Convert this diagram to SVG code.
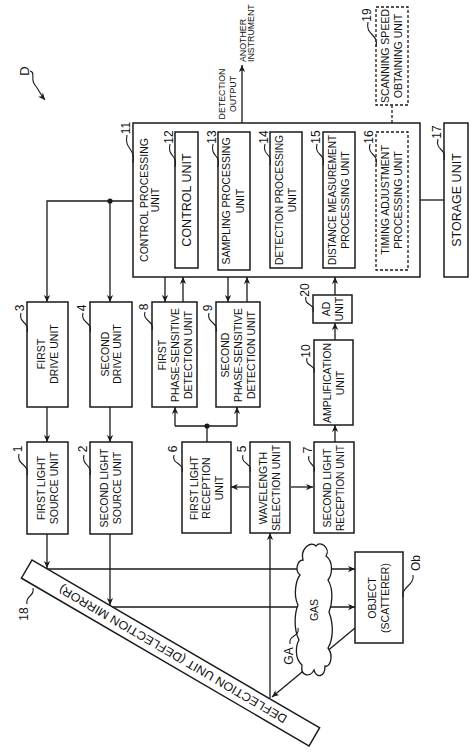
<svg xmlns="http://www.w3.org/2000/svg" width="474" height="753" viewBox="0 0 474 753">
<defs>
<style>
.b{fill:#fff;stroke:#1a1a1a;stroke-width:1.5}
.d{fill:#fff;stroke:#1a1a1a;stroke-width:1.3;stroke-dasharray:3,2}
.t{font-family:"Liberation Sans",Arial,sans-serif;font-size:10.5px;fill:#111;text-anchor:middle}
.tl{font-family:"Liberation Sans",Arial,sans-serif;font-size:12.5px;fill:#111;text-anchor:middle}
.n{font-family:"Liberation Sans",Arial,sans-serif;font-size:12px;fill:#111;text-anchor:middle}
.s{font-family:"Liberation Sans",Arial,sans-serif;font-size:8.8px;fill:#111}
.c{fill:none;stroke:#1a1a1a;stroke-width:1.3}
.ld{fill:none;stroke:#1a1a1a;stroke-width:1.1}
</style>
<marker id="ah" viewBox="0 0 10 10" refX="10" refY="5" markerWidth="8" markerHeight="7" markerUnits="userSpaceOnUse" orient="auto">
<path d="M0,0.5 L10,5 L0,9.5 L3,5 z" fill="#1a1a1a"/>
</marker>
</defs>
<rect width="474" height="753" fill="#fff"/>

<g id="connectors">
<path class="c" d="M242,123 V65" marker-end="url(#ah)"/>
<path class="c" d="M392,105 V123" stroke-dasharray="3,2"/>
<path class="c" d="M420,200 H444"/>
<path class="c" d="M133,201 H47 V302" marker-end="url(#ah)"/>
<path class="c" d="M110,201 V302" marker-end="url(#ah)"/>
<circle cx="110" cy="201" r="2.6" fill="#1a1a1a"/>
<path class="c" d="M165,277 V302" marker-end="url(#ah)"/>
<path class="c" d="M183,302 V277" marker-end="url(#ah)"/>
<path class="c" d="M228,277 V302" marker-end="url(#ah)"/>
<path class="c" d="M247,302 V277" marker-end="url(#ah)"/>
<path class="c" d="M335,295 V277" marker-end="url(#ah)"/>
<path class="c" d="M335,340 V323" marker-end="url(#ah)"/>
<path class="c" d="M335,442 V425" marker-end="url(#ah)"/>
<path class="c" d="M47,407 V442" marker-end="url(#ah)"/>
<path class="c" d="M110,407 V442" marker-end="url(#ah)"/>
<path class="c" d="M207,442 V426 M175,426 H237"/>
<path class="c" d="M175,426 V407" marker-end="url(#ah)"/>
<path class="c" d="M237,426 V407" marker-end="url(#ah)"/>
<circle cx="207" cy="426" r="2.6" fill="#1a1a1a"/>
<path class="c" d="M249,487 H231" marker-end="url(#ah)"/>
<path class="c" d="M291,487 H313" marker-end="url(#ah)"/>
<path class="c" d="M47,534 V568" marker-end="url(#ah)"/>
<path class="c" d="M47,569 H355" marker-end="url(#ah)"/>
<path class="c" d="M110,534 V605" marker-end="url(#ah)"/>
<path class="c" d="M112,607 H355" marker-end="url(#ah)"/>
<path class="c" d="M355,628 L272,697" marker-end="url(#ah)"/>
<path class="c" d="M270,698 V533" marker-end="url(#ah)"/>
<text class="s" text-anchor="middle" transform="translate(0,94) rotate(-90)"><tspan x="0" y="225">DETECTION</tspan><tspan x="0" y="236">OUTPUT</tspan></text>
<text class="s" text-anchor="start" transform="translate(0,62) rotate(-90)"><tspan x="0" y="245.5">ANOTHER</tspan><tspan x="0" y="253.8">INSTRUMENT</tspan></text>
</g>

<g id="label-D">
<text class="n" style="font-size:13px" transform="translate(0,71) rotate(-90)" x="0" y="28.6">D</text>
<path class="ld" d="M30,71 C36,72 30,80 35,85 C39,90 40,94 45,100" marker-end="url(#ah)"/>
</g>

<g id="n11">
<rect class="b" x="133" y="123" width="287" height="154"/>
<text class="t" transform="translate(0,200) rotate(-90)"><tspan x="0" y="147.8">CONTROL PROCESSING</tspan><tspan x="0" y="158.8">UNIT</tspan></text>
<text class="n" transform="translate(0,128) rotate(-90)" x="0" y="130.3">11</text>
<path class="ld" d="M127,135 c -3,15 9,13 6,28"/>
</g>
<g id="n12">
<rect class="b" x="175" y="132" width="23" height="136"/>
<text class="tl" transform="translate(0,200) rotate(-90)" x="0" y="191">CONTROL UNIT</text>
<text class="n" transform="translate(0,137) rotate(-90)" x="0" y="173.3">12</text>
<path class="ld" d="M170,144 c -3,13 8,10 5,23"/>
</g>
<g id="n13">
<rect class="b" x="218" y="132" width="32" height="138"/>
<text class="t" transform="translate(0,201) rotate(-90)"><tspan x="0" y="229.8">SAMPLING PROCESSING</tspan><tspan x="0" y="243.8">UNIT</tspan></text>
<text class="n" transform="translate(0,137) rotate(-90)" x="0" y="216.3">13</text>
<path class="ld" d="M213,144 c -3,13 8,10 5,23"/>
</g>
<g id="n14">
<rect class="b" x="270" y="132" width="32" height="136"/>
<text class="t" transform="translate(0,200) rotate(-90)"><tspan x="0" y="283.3" textLength="130" lengthAdjust="spacingAndGlyphs">DETECTION PROCESSING</tspan><tspan x="0" y="296.3">UNIT</tspan></text>
<text class="n" transform="translate(0,137) rotate(-90)" x="0" y="268.3">14</text>
<path class="ld" d="M265,144 c -3,12 8,9 5,21"/>
</g>
<g id="n15">
<rect class="b" x="323" y="132" width="32" height="136"/>
<text class="t" transform="translate(0,200) rotate(-90)"><tspan x="0" y="336.3" textLength="130" lengthAdjust="spacingAndGlyphs">DISTANCE MEASUREMENT</tspan><tspan x="0" y="349.3">PROCESSING UNIT</tspan></text>
<text class="n" transform="translate(0,137) rotate(-90)" x="0" y="320.3">15</text>
<path class="ld" d="M317,144 c -3,12 9,9 6,21"/>
</g>
<g id="n16">
<rect class="d" x="376" y="132" width="32" height="138"/>
<text class="t" transform="translate(0,200) rotate(-90)"><tspan x="0" y="389.3">TIMING ADJUSTMENT</tspan><tspan x="0" y="402.3">PROCESSING UNIT</tspan></text>
<text class="n" transform="translate(0,137) rotate(-90)" x="0" y="373.3">16</text>
<path class="ld" d="M370,144 c -3,12 9,9 6,21"/>
</g>
<g id="n17">
<rect class="b" x="444" y="123" width="24" height="154"/>
<text class="tl" transform="translate(0,200) rotate(-90)" x="0" y="460.5">STORAGE UNIT</text>
<text class="n" transform="translate(0,132) rotate(-90)" x="0" y="441.3">17</text>
<path class="ld" d="M438,139 c -3,12 9,9 6,21"/>
</g>
<g id="n19">
<rect class="d" x="376" y="7" width="32" height="98"/>
<text class="t" transform="translate(0,56) rotate(-90)"><tspan x="0" y="389.3">SCANNING SPEED</tspan><tspan x="0" y="402.3">OBTAINING UNIT</tspan></text>
<text class="n" transform="translate(0,15) rotate(-90)" x="0" y="371.3">19</text>
<path class="ld" d="M368,22 c -3,14 11,11 8,25"/>
</g>

<g id="n3">
<rect class="b" x="27" y="302" width="41" height="105"/>
<text class="t" transform="translate(0,354) rotate(-90)"><tspan x="0" y="45.3">FIRST</tspan><tspan x="0" y="57.8">DRIVE UNIT</tspan></text>
<text class="n" transform="translate(0,308) rotate(-90)" x="0" y="24.3">3</text>
<path class="ld" d="M21,313 c -3,10 9,9 6,19"/>
</g>
<g id="n4">
<rect class="b" x="90" y="302" width="42" height="105"/>
<text class="t" transform="translate(0,354) rotate(-90)"><tspan x="0" y="108.8">SECOND</tspan><tspan x="0" y="121.3">DRIVE UNIT</tspan></text>
<text class="n" transform="translate(0,308) rotate(-90)" x="0" y="86.3">4</text>
<path class="ld" d="M83,313 c -3,10 10,9 7,19"/>
</g>
<g id="n8">
<rect class="b" x="152" y="302" width="45" height="105"/>
<text class="t" transform="translate(0,355) rotate(-90)"><tspan x="0" y="165.8">FIRST</tspan><tspan x="0" y="178.8">PHASE-SENSITIVE</tspan><tspan x="0" y="191.8">DETECTION UNIT</tspan></text>
<text class="n" transform="translate(0,307) rotate(-90)" x="0" y="148.3">8</text>
<path class="ld" d="M145,312 c -3,9 10,9 7,18"/>
</g>
<g id="n9">
<rect class="b" x="216" y="302" width="44" height="105"/>
<text class="t" transform="translate(0,355) rotate(-90)"><tspan x="0" y="229.3">SECOND</tspan><tspan x="0" y="242.3">PHASE-SENSITIVE</tspan><tspan x="0" y="255.3">DETECTION UNIT</tspan></text>
<text class="n" transform="translate(0,308) rotate(-90)" x="0" y="212.3">9</text>
<path class="ld" d="M209,313 c -3,10 10,9 7,19"/>
</g>
<g id="n20">
<rect class="b" x="313" y="295" width="39" height="28"/>
<text class="t" transform="translate(0,309) rotate(-90)"><tspan x="0" y="329.8">AD</tspan><tspan x="0" y="342.8">UNIT</tspan></text>
<text class="n" transform="translate(0,290) rotate(-90)" x="0" y="309.3">20</text>
<path class="ld" d="M306,297 c -3,8 10,7 7,15"/>
</g>
<g id="n10">
<rect class="b" x="314" y="340" width="39" height="85"/>
<text class="t" transform="translate(0,383) rotate(-90)"><tspan x="0" y="330.8" textLength="80" lengthAdjust="spacingAndGlyphs">AMPLIFICATION</tspan><tspan x="0" y="343.8">UNIT</tspan></text>
<text class="n" transform="translate(0,351) rotate(-90)" x="0" y="310.3">10</text>
<path class="ld" d="M307,358 c -3,8 10,7 7,15"/>
</g>

<g id="n1">
<rect class="b" x="27" y="442" width="41" height="92"/>
<text class="t" transform="translate(0,488) rotate(-90)"><tspan x="0" y="44.8">FIRST LIGHT</tspan><tspan x="0" y="57.8">SOURCE UNIT</tspan></text>
<text class="n" transform="translate(0,449) rotate(-90)" x="0" y="22.3">1</text>
<path class="ld" d="M19,454 c -3,11 11,10 8,21"/>
</g>
<g id="n2">
<rect class="b" x="90" y="442" width="42" height="92"/>
<text class="t" transform="translate(0,488) rotate(-90)"><tspan x="0" y="108.3">SECOND LIGHT</tspan><tspan x="0" y="121.3">SOURCE UNIT</tspan></text>
<text class="n" transform="translate(0,449) rotate(-90)" x="0" y="87.3">2</text>
<path class="ld" d="M84,455 c -3,10 9,10 6,20"/>
</g>
<g id="n6">
<rect class="b" x="182" y="442" width="49" height="91"/>
<text class="t" transform="translate(0,488) rotate(-90)"><tspan x="0" y="197.8">FIRST LIGHT</tspan><tspan x="0" y="210.3">RECEPTION</tspan><tspan x="0" y="222.8">UNIT</tspan></text>
<text class="n" transform="translate(0,449) rotate(-90)" x="0" y="177.3">6</text>
<path class="ld" d="M174,455 c -3,9 11,8 8,17"/>
</g>
<g id="n5">
<rect class="b" x="250" y="442" width="40" height="91"/>
<text class="t" transform="translate(0,488) rotate(-90)"><tspan x="0" y="267.3">WAVELENGTH</tspan><tspan x="0" y="280.3" textLength="86" lengthAdjust="spacingAndGlyphs">SELECTION UNIT</tspan></text>
<text class="n" transform="translate(0,449) rotate(-90)" x="0" y="246.3">5</text>
<path class="ld" d="M243,455 c -3,9 10,8 7,17"/>
</g>
<g id="n7">
<rect class="b" x="314" y="442" width="40" height="91"/>
<text class="t" transform="translate(0,488) rotate(-90)"><tspan x="0" y="331.3">SECOND LIGHT</tspan><tspan x="0" y="344.3" textLength="86" lengthAdjust="spacingAndGlyphs">RECEPTION UNIT</tspan></text>
<text class="n" transform="translate(0,450) rotate(-90)" x="0" y="312.3">7</text>
<path class="ld" d="M309,456 c -3,8 8,8 5,16"/>
</g>

<g id="nOb">
<rect class="b" x="355" y="552" width="48" height="91"/>
<text class="t" transform="translate(0,598) rotate(-90)"><tspan x="0" y="376.3">OBJECT</tspan><tspan x="0" y="389.3">(SCATTERER)</tspan></text>
<text class="n" transform="translate(0,563) rotate(-90)" x="0" y="420.3">Ob</text>
<path class="ld" d="M413,575 c 2,10 -12,12 -10,22"/>
</g>

<g id="nGA">
<path fill="#fff" stroke="#1a1a1a" stroke-width="1.3" d="M303,560 C300,550 310,540 316,546 C320,540 331,548 326,556 C334,562 332,575 328,580 C334,590 332,605 329,612 C334,625 333,640 328,648 C334,656 330,668 325,666 C325,678 316,678 314,670 C310,678 300,676 302,665 C294,658 296,645 299,640 C293,628 295,612 298,605 C293,595 296,580 300,575 C294,570 298,560 303,560 Z"/>
<text class="t" transform="translate(0,610) rotate(-90)" x="0" y="317.8">GAS</text>
<text class="n" transform="translate(0,656) rotate(-90)" x="0" y="293.3">GA</text>
<path class="ld" d="M290,644 c -2,-9 10,-7 8,-16"/>
</g>

<g id="n18">
<g transform="translate(32,560) rotate(30.26)">
<rect class="b" x="0" y="0" width="333" height="21"/>
<text class="t" style="font-size:12px" transform="translate(169,10.5) rotate(180)" x="0" y="4.3" textLength="262" lengthAdjust="spacingAndGlyphs">DEFLECTION UNIT (DEFLECTION MIRROR)</text>
</g>
<text class="n" transform="translate(0,614) rotate(-90)" x="0" y="28.3">18</text>
<path class="ld" d="M27,604 c -2,-9 8,-7 6,-16"/>
</g>
</svg>
